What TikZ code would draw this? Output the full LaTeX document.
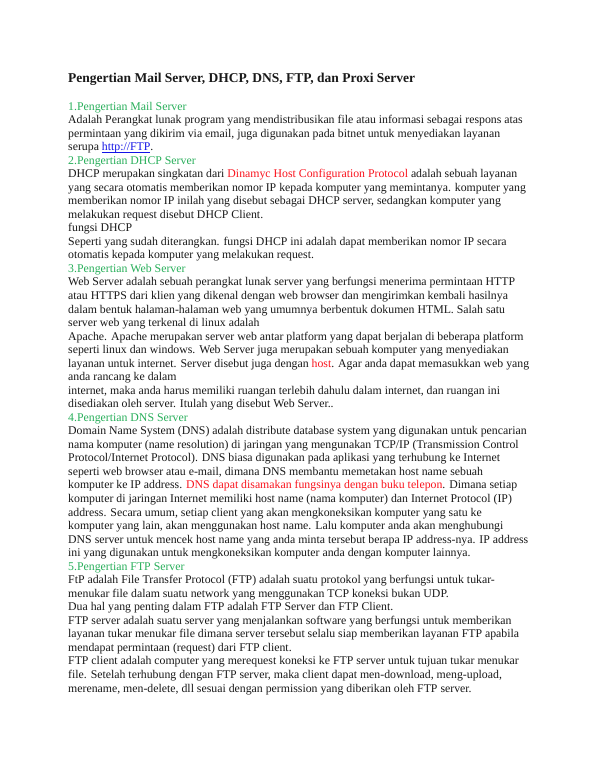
\documentclass[tikz,border=0pt]{standalone}
\usepackage{fontspec}
\setmainfont{Liberation Serif}
\definecolor{hgreen}{RGB}{40,175,90}
\definecolor{hred}{RGB}{250,20,30}
\definecolor{hblue}{RGB}{20,20,230}
\definecolor{txt}{RGB}{25,25,25}
\newcommand\tline[2]{\node[tl] (l#1) at (68pt,{-110pt-(#1-1)*13.535pt}) {#2};}
\newcommand\gr[1]{\textcolor{hgreen}{#1}}
\newcommand\rd[1]{\textcolor{hred}{#1}}
\newcommand\ulink[1]{{\color{hblue}\setbox0\hbox{#1}\rlap{\rule[-1.6pt]{\wd0}{0.6pt}}\box0}}
\begin{document}
\begin{tikzpicture}[tl/.style={anchor=base west,inner sep=0pt,font=\fontsize{11.8}{13.5}\selectfont,text=txt}]
\useasboundingbox[fill=white] (0,0) rectangle (600pt,-776pt);
\node[anchor=base west,inner sep=0pt,font=\fontsize{13.5}{16}\selectfont\bfseries,text=txt] (title) at (68pt,-82pt) {Pengertian Mail Server, DHCP, DNS, FTP, dan Proxi Server};
\tline{1}{\gr{1.Pengertian Mail Server}}
\tline{2}{Adalah Perangkat lunak program yang mendistribusikan file atau informasi sebagai respons atas}
\tline{3}{permintaan yang dikirim via email, juga digunakan pada bitnet untuk menyediakan layanan}
\tline{4}{serupa \ulink{http://FTP}.}
\tline{5}{\gr{2.Pengertian DHCP Server}}
\tline{6}{DHCP merupakan singkatan dari \rd{Dinamyc Host Configuration Protocol} adalah sebuah layanan}
\tline{7}{yang secara otomatis memberikan nomor IP kepada komputer yang memintanya. komputer yang}
\tline{8}{memberikan nomor IP inilah yang disebut sebagai DHCP server, sedangkan komputer yang}
\tline{9}{melakukan request disebut DHCP Client.}
\tline{10}{fungsi DHCP}
\tline{11}{Seperti yang sudah diterangkan. fungsi DHCP ini adalah dapat memberikan nomor IP secara}
\tline{12}{otomatis kepada komputer yang melakukan request.}
\tline{13}{\gr{3.Pengertian Web Server}}
\tline{14}{Web Server adalah sebuah perangkat lunak server yang berfungsi menerima permintaan HTTP}
\tline{15}{atau HTTPS dari klien yang dikenal dengan web browser dan mengirimkan kembali hasilnya}
\tline{16}{dalam bentuk halaman-halaman web yang umumnya berbentuk dokumen HTML. Salah satu}
\tline{17}{server web yang terkenal di linux adalah}
\tline{18}{Apache. Apache merupakan server web antar platform yang dapat berjalan di beberapa platform}
\tline{19}{seperti linux dan windows. Web Server juga merupakan sebuah komputer yang menyediakan}
\tline{20}{layanan untuk internet. Server disebut juga dengan \rd{host}. Agar anda dapat memasukkan web yang}
\tline{21}{anda rancang ke dalam}
\tline{22}{internet, maka anda harus memiliki ruangan terlebih dahulu dalam internet, dan ruangan ini}
\tline{23}{disediakan oleh server. Itulah yang disebut Web Server..}
\tline{24}{\gr{4.Pengertian DNS Server}}
\tline{25}{Domain Name System (DNS) adalah distribute database system yang digunakan untuk pencarian}
\tline{26}{nama komputer (name resolution) di jaringan yang mengunakan TCP/IP (Transmission Control}
\tline{27}{Protocol/Internet Protocol). DNS biasa digunakan pada aplikasi yang terhubung ke Internet}
\tline{28}{seperti web browser atau e-mail, dimana DNS membantu memetakan host name sebuah}
\tline{29}{komputer ke IP address. \rd{DNS dapat disamakan fungsinya dengan buku telepon}. Dimana setiap}
\tline{30}{komputer di jaringan Internet memiliki host name (nama komputer) dan Internet Protocol (IP)}
\tline{31}{address. Secara umum, setiap client yang akan mengkoneksikan komputer yang satu ke}
\tline{32}{komputer yang lain, akan menggunakan host name. Lalu komputer anda akan menghubungi}
\tline{33}{DNS server untuk mencek host name yang anda minta tersebut berapa IP address-nya. IP address}
\tline{34}{ini yang digunakan untuk mengkoneksikan komputer anda dengan komputer lainnya.}
\tline{35}{\gr{5.Pengertian FTP Server}}
\tline{36}{FtP adalah File Transfer Protocol (FTP) adalah suatu protokol yang berfungsi untuk tukar-}
\tline{37}{menukar file dalam suatu network yang menggunakan TCP koneksi bukan UDP.}
\tline{38}{Dua hal yang penting dalam FTP adalah FTP Server dan FTP Client.}
\tline{39}{FTP server adalah suatu server yang menjalankan software yang berfungsi untuk memberikan}
\tline{40}{layanan tukar menukar file dimana server tersebut selalu siap memberikan layanan FTP apabila}
\tline{41}{mendapat permintaan (request) dari FTP client.}
\tline{42}{FTP client adalah computer yang merequest koneksi ke FTP server untuk tujuan tukar menukar}
\tline{43}{file. Setelah terhubung dengan FTP server, maka client dapat men-download, meng-upload,}
\tline{44}{merename, men-delete, dll sesuai dengan permission yang diberikan oleh FTP server.}
\end{tikzpicture}
\end{document}
